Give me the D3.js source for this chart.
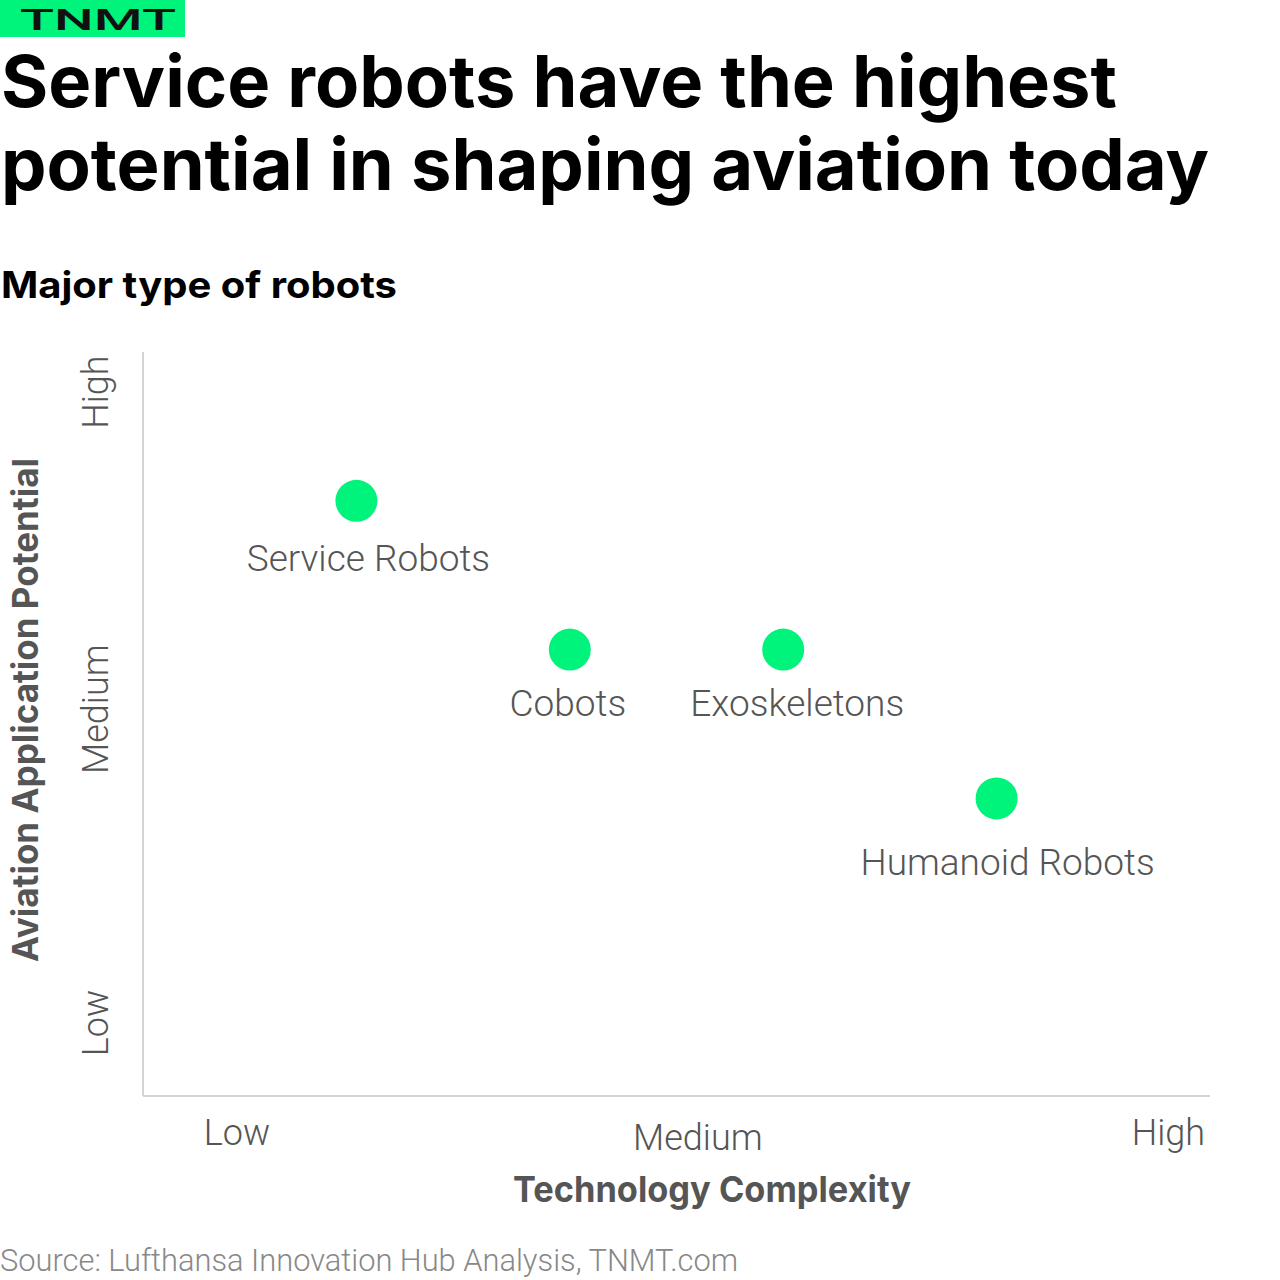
<!DOCTYPE html>
<html>
<head>
<meta charset="utf-8">
<script src="https://cdn.jsdelivr.net/npm/d3@7"></script>
<style>
  body { margin: 0; background: #fff; }
  text { font-family: Roboto, "Noto Sans", sans-serif; }
  .bold { font-family: Inter, Roboto, sans-serif; font-weight: 700; }
</style>
</head>
<body>
<div id="chart"></div>
<script>
// robots, positions on a 0..1 complexity / potential scale
const robots = ["Service Robots", "Cobots", "Exoskeletons", "Humanoid Robots"];
const complexity = [0.2, 0.4, 0.6, 0.8];
const potential = [0.8, 0.6, 0.6, 0.4];

const xTickLabels = ["Low", "Medium", "High"];
const xTickValues = [0.088, 0.52, 1.0];
const yTickLabels = ["Low", "Medium", "High"];
const yTickValues = [0.098, 0.52, 0.946];

const W = 1280, H = 1280;
const plot = { left: 143, right: 1210, top: 352, bottom: 1096 };
const green = "#00f47b";

const svg = d3.select("#chart").append("svg")
	.attr("width", W)
	.attr("height", H);

// logo
svg.append("rect")
	.attr("x", 0).attr("y", 0)
	.attr("width", 185).attr("height", 37)
	.attr("fill", green);
svg.append("text")
	.attr("x", 20).attr("y", 30)
	.attr("textLength", 156)
	.attr("lengthAdjust", "spacingAndGlyphs")
	.style("font-size", "30px")
	.style("font-weight", 500)
	.attr("fill", "#111")
	.text("TNMT");

// titles
const title = ["Service robots have the highest", "potential in shaping aviation today"];
const titleLen = [1116, 1208];
svg.selectAll(".title")
	.data(title)
	.enter()
	.append("text")
	.attr("class", "title bold")
	.attr("x", 1)
	.attr("y", (d, i) => 107 + i * 83)
	.attr("textLength", (d, i) => titleLen[i])
	.attr("lengthAdjust", "spacingAndGlyphs")
	.style("font-size", "72px")
	.attr("fill", "#000")
	.text(d => d);

svg.append("text")
	.attr("class", "bold")
	.attr("x", 1).attr("y", 298)
	.attr("textLength", 396)
	.attr("lengthAdjust", "spacingAndGlyphs")
	.style("font-size", "37px")
	.attr("fill", "#000")
	.text("Major type of robots");

const x = d3.scaleLinear().domain([0, 1]).range([plot.left, plot.right]);
const y = d3.scaleLinear().domain([0, 1]).range([plot.bottom, plot.top]);

// axis lines
svg.append("line")
	.attr("x1", x(0)).attr("x2", x(0))
	.attr("y1", y(1)).attr("y2", y(0))
	.attr("stroke", "#d4d4d4").attr("stroke-width", 2);
svg.append("line")
	.attr("x1", x(0)).attr("x2", x(1))
	.attr("y1", y(0)).attr("y2", y(0))
	.attr("stroke", "#d4d4d4").attr("stroke-width", 2);

// x tick labels
svg.selectAll(".xtick")
	.data(xTickLabels)
	.enter()
	.append("text")
	.attr("class", "xtick")
	.attr("x", (d, i) => x(xTickValues[i]) - (i == 2 ? 5 : 0))
	.attr("y", (d, i) => i == 1 ? 1150 : 1145)
	.attr("text-anchor", (d, i) => i == 2 ? "end" : "middle")
	.style("font-size", "36px")
	.style("font-weight", 300)
	.attr("fill", "#555")
	.text(d => d);

// y tick labels (rotated)
svg.selectAll(".ytick")
	.data(yTickLabels)
	.enter()
	.append("text")
	.attr("class", "ytick")
	.attr("transform", (d, i) => `translate(108,${y(yTickValues[i])}) rotate(-90)`)
	.attr("text-anchor", "middle")
	.style("font-size", "36px")
	.style("font-weight", 300)
	.attr("fill", "#555")
	.text(d => d);

// axis titles
svg.append("text")
	.attr("class", "bold")
	.attr("x", 712).attr("y", 1202)
	.attr("text-anchor", "middle")
	.attr("textLength", 398)
	.attr("lengthAdjust", "spacingAndGlyphs")
	.style("font-size", "36px")
	.attr("fill", "#555")
	.text("Technology Complexity");

svg.append("text")
	.attr("class", "bold")
	.attr("transform", `translate(38,710) rotate(-90)`)
	.attr("text-anchor", "middle")
	.attr("textLength", 504)
	.attr("lengthAdjust", "spacingAndGlyphs")
	.style("font-size", "36px")
	.attr("fill", "#555")
	.text("Aviation Application Potential");

// points
const data = robots.map((d, i) => ({ name: d, cx: complexity[i], cy: potential[i] }));
const labelDy = [70, 66, 66, 77];
const labelDx = [12, -2, 14, 11];

svg.selectAll(".dot")
	.data(data)
	.enter()
	.append("circle")
	.attr("class", "dot")
	.attr("cx", d => x(d.cx))
	.attr("cy", d => y(d.cy))
	.attr("r", 21)
	.attr("fill", green);

svg.selectAll(".label")
	.data(data)
	.enter()
	.append("text")
	.attr("class", "label")
	.attr("x", (d, i) => x(d.cx) + labelDx[i])
	.attr("y", (d, i) => y(d.cy) + labelDy[i])
	.attr("text-anchor", "middle")
	.style("font-size", "37px")
	.style("font-weight", 300)
	.attr("fill", "#555")
	.text(d => d.name);

// source
svg.append("text")
	.attr("x", 0).attr("y", 1271)
	.attr("textLength", 738)
	.attr("lengthAdjust", "spacingAndGlyphs")
	.style("font-size", "31px")
	.style("font-weight", 300)
	.attr("fill", "#888")
	.text("Source: Lufthansa Innovation Hub Analysis, TNMT.com");
</script>
</body>
</html>
